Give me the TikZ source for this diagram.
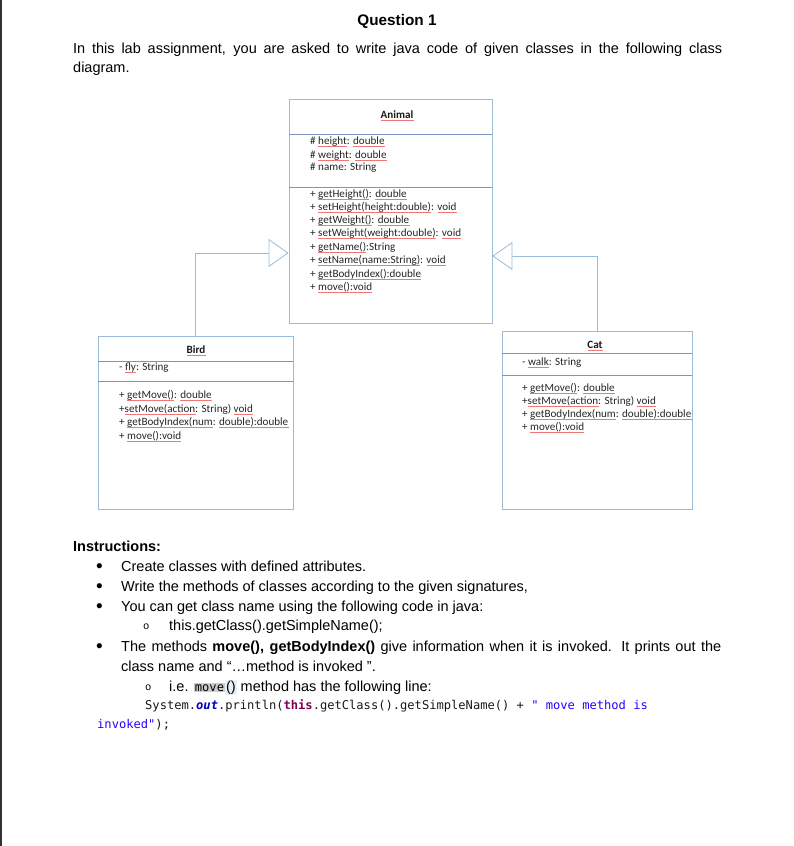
\documentclass[tikz,border=0pt]{standalone}
\usepackage{fontspec}
\usetikzlibrary{arrows.meta}
\setmainfont{Liberation Sans}
\newfontfamily\carlito{Carlito}
\newfontfamily\codefont{DejaVu Sans Mono}
\newfontfamily\ofont{Liberation Mono}
\definecolor{boxc}{RGB}{155,187,217}
\definecolor{divc}{RGB}{120,150,195}
\definecolor{sqred}{RGB}{238,120,120}
\definecolor{kwc}{RGB}{127,0,85}
\definecolor{outc}{RGB}{0,0,192}
\definecolor{strc}{RGB}{42,0,255}
\definecolor{hlgrey}{RGB}{205,205,205}
\definecolor{hllight}{RGB}{232,238,246}
\definecolor{edgec}{RGB}{50,50,50}
\newsavebox\sqbox
\newcommand\sq[1]{\sbox\sqbox{#1}\rlap{\hbox to \wd\sqbox{\color{sqred}\xleaders\hbox{\rule[-2.6pt]{0.7pt}{0.4pt}\rule[-2.2pt]{0.7pt}{0.4pt}}\hfill}}\usebox\sqbox}
\newcommand\bodysize{\fontsize{14.5}{17}\selectfont}
\newcommand\clsfont{\carlito\fontsize{11.1}{13}\selectfont}
\newcommand\codesize{\codefont\fontsize{12.1}{14}\selectfont}
\begin{document}
\begin{tikzpicture}[x=1pt,y=-1pt,
  txt/.style={anchor=base west, inner sep=0, font=\bodysize},
  bul/.style={anchor=base west, inner sep=0, font=\fontsize{19}{20}\selectfont},
  subbul/.style={anchor=base west, inner sep=0, font=\ofont\fontsize{10.5}{12}\selectfont},
  code/.style={anchor=base west, inner sep=0, font=\codesize, text=black!90},
  classbox/.style={draw=boxc, line width=0.8pt, inner sep=0, fill=white},
  divline/.style={draw=divc, line width=0.8pt},
  ctx/.style={anchor=base west, inner sep=0, font=\clsfont, text=black!85},
  chead/.style={anchor=base, inner sep=0, font=\clsfont\bfseries, text=black!90},
  conn/.style={draw=boxc, line width=0.8pt, -{Triangle[open, fill=white, length=20pt, width=28pt]}}
]
\useasboundingbox (0,0) rectangle (793,846);
\fill[white] (0,0) rectangle (793,846);
\draw[edgec, line width=1.5pt] (0.75,0) -- (0.75,846);

% Title and intro
\node[anchor=base, inner sep=0, font=\bfseries\fontsize{15.3}{18}\selectfont] (title) at (397,25) {Question 1};
\node[txt] (p1) at (73,53) {\makebox[649pt][s]{In this lab assignment, you are asked to write java code of given classes in the following class}};
\node[txt] (p2) at (73,72) {diagram.};

% Class boxes
\node[classbox, minimum width=203pt, minimum height=224pt] (animal) at (390.5,211) {};
\node[classbox, minimum width=195pt, minimum height=173pt] (bird) at (195.5,422.5) {};
\node[classbox, minimum width=190pt, minimum height=178pt] (cat) at (597,420) {};

\draw[divline] (animal.west |- 0,134) -- (animal.east |- 0,134);
\draw[divline] (animal.west |- 0,187) -- (animal.east |- 0,187);
\draw[divline] (bird.west |- 0,361) -- (bird.east |- 0,361);
\draw[divline] (bird.west |- 0,381) -- (bird.east |- 0,381);
\draw[divline] (cat.west |- 0,353) -- (cat.east |- 0,353);
\draw[divline] (cat.west |- 0,375) -- (cat.east |- 0,375);

% Connectors (generalization)
\coordinate (tipB) at (animal.west |- 0,253);
\coordinate (tipC) at (animal.east |- 0,256);
\draw[conn] (bird.north) |- (tipB);
\draw[conn] (cat.north) |- (tipC);

% Animal contents
\node[chead] (ah) at (397,118) {\sq{Animal}};
\node[ctx] (a1) at (310,144) {\# \sq{height}: \sq{double}};
\node[ctx] (a2) at (310,158) {\# \sq{weight}: \sq{double}};
\node[ctx] (a3) at (310,170) {\# name: String};
\node[ctx] (a4) at (310,197) {+ \sq{getHeight()}: \sq{double}};
\node[ctx] (a5) at (310,210) {+ \sq{setHeight(height:double)}: \sq{void}};
\node[ctx] (a6) at (310,223) {+ \sq{getWeight()}: \sq{double}};
\node[ctx] (a7) at (310,236) {+ \sq{setWeight(weight:double)}: \sq{void}};
\node[ctx] (a8) at (310,250) {+ \sq{getName()}:String};
\node[ctx] (a9) at (310,263) {+ \sq{setName(name:String)}: \sq{void}};
\node[ctx] (a10) at (310,277) {+ \sq{getBodyIndex():double}};
\node[ctx] (a11) at (310,290) {+ \sq{move():void}};

% Bird contents
\node[chead] (bh) at (196,353) {\sq{Bird}};
\node[ctx] (b1) at (119,370) {- \sq{fly}: String};
\node[ctx] (b2) at (119,398) {+ \sq{getMove()}: \sq{double}};
\node[ctx] (b3) at (119,412) {+\sq{setMove(action}: String) \sq{void}};
\node[ctx] (b4) at (119,425) {+ \sq{getBodyIndex(num}: \sq{double):double}};
\node[ctx] (b5) at (119,439) {+ \sq{move():void}};

% Cat contents
\node[chead] (ch) at (595,348) {\sq{Cat}};
\node[ctx] (c1) at (522,365) {- \sq{walk}: String};
\node[ctx] (c2) at (522,391) {+ \sq{getMove()}: \sq{double}};
\node[ctx] (c3) at (522,404) {+\sq{setMove(action}: String) \sq{void}};
\node[ctx] (c4) at (522,417) {+ \sq{getBodyIndex(num}: \sq{double):double}};
\node[ctx] (c5) at (522,430) {+ \sq{move():void}};

% Instructions
\node[txt, font=\bodysize\bfseries] (ins) at (73,551) {Instructions:};
\node[bul] (u1) at (96,572) {•};
\node[txt] (t1) at (121,571) {Create classes with defined attributes.};
\node[bul] (u2) at (96,592) {•};
\node[txt] (t2) at (121,591) {Write the methods of classes according to the given signatures,};
\node[bul] (u3) at (96,612) {•};
\node[txt] (t3) at (121,611) {You can get class name using the following code in java:};
\node[subbul] (s1) at (143,629) {o};
\node[txt] (t4) at (169,630) {this.getClass().getSimpleName();};
\node[bul] (u4) at (96,652) {•};
\node[txt] (t5) at (121,651) {\makebox[600pt][s]{The methods \textbf{move(), getBodyIndex()} give information when it is invoked. It prints out the}};
\node[txt] (t6) at (121,671) {class name and “…method is invoked ”.};
\node[subbul] (s2) at (145,690) {o};
\node[txt] (t7) at (169,691) {i.e. {\setlength{\fboxsep}{1pt}\colorbox{hlgrey}{\codesize move}\colorbox{hllight}{()}} method has the following line:};
\node[code] (k1) at (145,709) {System.\textcolor{outc}{\textbf{\textit{out}}}.println(\textcolor{kwc}{\textbf{this}}.getClass().getSimpleName() + \textcolor{strc}{" move method is}};
\node[code] (k2) at (97,728) {\textcolor{strc}{invoked"});};
\end{tikzpicture}
\end{document}
